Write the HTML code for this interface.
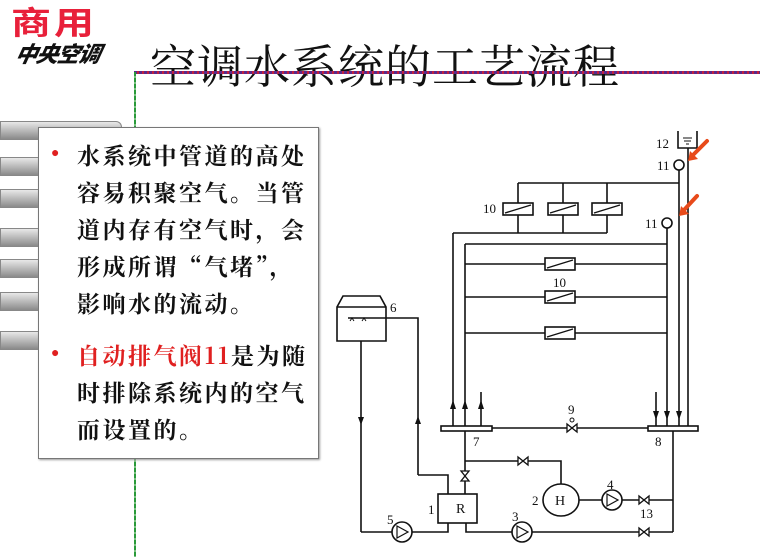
<!DOCTYPE html>
<html><head><meta charset="utf-8"><style>
html,body{margin:0;padding:0;background:#fff;}
body{width:760px;height:557px;position:relative;overflow:hidden;font-family:"Liberation Serif","Noto Serif CJK SC",serif;}
.tab{position:absolute;left:0;width:122px;height:19px;border-radius:0 6px 6px 0;background:linear-gradient(#e8e8e8,#b0b0b0 60%,#8a8a8a);border:1px solid #888;box-sizing:border-box;}
#box{position:absolute;left:38px;top:127px;width:281px;height:332px;border:1px solid #777;background:#fff;box-sizing:border-box;box-shadow:1px 1px 2px #999;}
#box p{margin:0;position:absolute;left:38px;font-size:23px;line-height:37px;font-weight:bold;color:#111;font-family:"Noto Serif CJK SC",serif;letter-spacing:2.5px;white-space:nowrap;}
.b{position:absolute;left:12px;color:#e02020;font-size:14px;}
</style></head><body>
<div style="position:absolute;left:11px;top:2px;font:bold 40px 'Noto Sans CJK SC',sans-serif;color:#e8203a;letter-spacing:3px;line-height:46px;transform:scaleY(0.8);transform-origin:0 0;">商用</div>
<div style="position:absolute;left:16px;top:41px;font:italic 900 22px 'Noto Sans CJK SC',sans-serif;color:#111;line-height:24px;transform:skewX(-12deg);letter-spacing:-1px;">中央空调</div>
<div style="position:absolute;left:150px;top:36px;font-size:46px;line-height:56px;color:#111;font-family:'Noto Serif CJK SC',serif;letter-spacing:1px;white-space:nowrap;">空调水系统的工艺流程</div>
<div style="position:absolute;left:134px;top:71px;width:626px;height:3px;background:repeating-linear-gradient(90deg,#5a2a8a 0 3px,#c02040 3px 5px);"></div>
<div style="position:absolute;left:134px;top:72px;width:2px;height:485px;background:repeating-linear-gradient(#2a9a3a 0 4px,#7ac080 4px 6px);"></div>
<div class="tab" style="top:121px"></div>
<div class="tab" style="top:157px"></div>
<div class="tab" style="top:189px"></div>
<div class="tab" style="top:228px"></div>
<div class="tab" style="top:259px"></div>
<div class="tab" style="top:292px"></div>
<div class="tab" style="top:331px"></div>
<div id="box">
<span class="b" style="top:18px">●</span>
<p style="top:8px">水系统中管道的高处<br>容易积聚空气。当管<br>道内存有空气时，会<br>形成所谓“气堵”，<br>影响水的流动。</p>
<span class="b" style="top:218px">●</span>
<p style="top:208px"><span style="color:#e02020">自动排气阀11</span>是为随<br>时排除系统内的空气<br>而设置的。</p>
</div>
<svg width="760" height="557" style="position:absolute;left:0;top:0" font-family="Liberation Serif,serif" font-size="13">
<g stroke="#111" stroke-width="1.6" fill="none">
<path d="M678,131V148H697V131"/><path d="M683,138h9M684,141h7M686,144h3" stroke-width="1"/>
<line x1="688" y1="148" x2="688" y2="426"/>
<circle cx="679" cy="165" r="5" fill="#fff"/>
<line x1="679" y1="170" x2="679" y2="426"/>
<path d="M518,183H679"/>
<path d="M518,183V233M563,183V233M607,183V233M453,233H607"/>
<line x1="453" y1="233" x2="453" y2="426"/>
<circle cx="667" cy="223" r="5" fill="#fff"/>
<line x1="667" y1="228" x2="667" y2="426"/>
<path d="M465,244H667"/>
<line x1="465" y1="244" x2="465" y2="426"/>
<path d="M465,264H667M465,297H667M465,333H667"/>
<line x1="481" y1="392" x2="481" y2="426"/>
<line x1="656" y1="392" x2="656" y2="426"/>
</g>
<g fill="#111">
<path d="M453,400l-3,9h6zM465,400l-3,9h6zM481,400l-3,9h6z"/>
<path d="M656,420l-3,-9h6zM667,420l-3,-9h6zM679,420l-3,-9h6z"/>
</g>
<g stroke="#111" stroke-width="1.6" fill="#fff">
<rect x="503" y="203" width="30" height="12"/><rect x="548" y="203" width="30" height="12"/><rect x="592" y="203" width="30" height="12"/>
<rect x="545" y="258" width="30" height="12"/><rect x="545" y="291" width="30" height="12"/><rect x="545" y="327" width="30" height="12"/>
<rect x="441" y="426" width="51" height="5"/><rect x="648" y="426" width="50" height="5"/>
</g>
<g stroke="#111" stroke-width="1.4">
<path d="M505,213l26,-8M550,213l26,-8M594,213l26,-8M547,268l26,-8M547,301l26,-8M547,337l26,-8"/>
</g>
<g stroke="#111" stroke-width="1.6" fill="none">
<path d="M337,341V307L343,296H380L386,307V341Z"/><path d="M337,307H386"/>
<path d="M348,318H418V475" /><path d="M350,321l2,-3 2,3M362,321l2,-3 2,3" stroke-width="1"/>
<line x1="361" y1="341" x2="361" y2="532"/>
<path d="M418,475H448V494"/>
<path d="M492,428H567M577,428H648"/>
<path d="M465,431V471M465,481V494"/>
<path d="M465,461H518M528,461H561V484"/>
<path d="M579,500H602M622,500H639M649,500H673"/>
<path d="M673,431V532"/>
<path d="M361,532H392M412,532H448V523M466,523V532H512M532,532H639M649,532H673"/>
<rect x="438" y="494" width="39" height="29" fill="#fff"/>
<ellipse cx="561" cy="500" rx="18" ry="16" fill="#fff"/>
<circle cx="402" cy="532" r="10" fill="#fff"/><circle cx="522" cy="532" r="10" fill="#fff"/><circle cx="612" cy="500" r="10" fill="#fff"/>
<path d="M397,526l11,6-11,6zM517,526l11,6-11,6zM607,494l11,6-11,6z" stroke-width="1.2"/>
<circle cx="572" cy="420" r="2" stroke-width="1"/>
</g>
<path d="M361,425l-3,-8h6zM418,416l-3,8h6z" fill="#111"/>
<g stroke="#111" stroke-width="1.3" fill="#fff">
<path d="M567,424v8l10,-8v8z"/><path d="M518,457v8l10,-8v8z"/><path d="M639,496v8l10,-8v8z"/><path d="M639,528v8l10,-8v8z"/><path d="M461,471h8l-8,10h8z"/>
</g>
<g fill="#111">
<text x="656" y="148">12</text><text x="657" y="170">11</text><text x="645" y="228">11</text>
<text x="483" y="213">10</text><text x="553" y="287">10</text><text x="390" y="312">6</text>
<text x="568" y="414">9</text><text x="473" y="446">7</text><text x="655" y="446">8</text>
<text x="428" y="514">1</text><text x="456" y="513" font-size="14">R</text><text x="555" y="505" font-size="14">H</text>
<text x="532" y="505">2</text><text x="607" y="489">4</text><text x="640" y="518">13</text><text x="512" y="521">3</text><text x="387" y="524">5</text>
</g>
<g stroke="#e84a1a" stroke-width="4" stroke-linecap="round">
<line x1="707" y1="141" x2="693" y2="155"/><line x1="697" y1="196" x2="684" y2="210"/>
</g>
<path d="M688,161l2,-10 8,8z M679,216l2,-10 8,8z" fill="#e84a1a"/>
</svg>
</body></html>
